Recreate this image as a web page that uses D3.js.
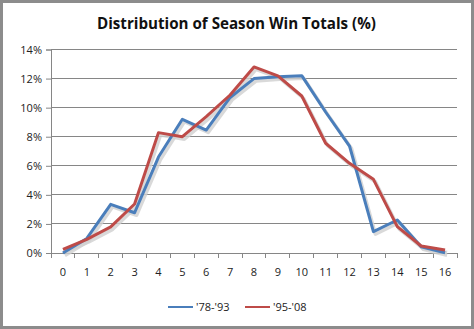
<!DOCTYPE html>
<html><head><meta charset="utf-8">
<script src="https://cdn.jsdelivr.net/npm/d3@7"></script>
<style>body{margin:0;background:#fff}svg{display:block}</style>
</head><body>
<svg id="c" width="474" height="329"></svg>
<script>
const categories = [0,1,2,3,4,5,6,7,8,9,10,11,12,13,14,15,16];
const series1Name = "'78-'93";
const series1 = [0.0,1.0,3.35,2.77,6.6,9.2,8.46,10.7,12.0,12.13,12.2,9.7,7.36,1.47,2.27,0.43,0.02];
const series2Name = "'95-'08";
const series2 = [0.25,0.94,1.8,3.37,8.28,8.0,9.38,10.87,12.8,12.18,10.8,7.55,6.17,5.07,1.81,0.48,0.2];
const yTicks = [0,2,4,6,8,10,12,14];
const title = "Distribution of Season Win Totals (%)";

(function(){
const svg = d3.select("#c");
const W = 474, H = 329;
const pLeft = 51, pRight = 457, pTop = 49.5, pBottom = 253;
const font = "'Open Sans', 'DejaVu Sans', sans-serif";

svg.append("rect").attr("x",1.5).attr("y",1.5).attr("width",W-3).attr("height",H-3)
  .attr("fill","#fff").attr("stroke","#8c8c8c").attr("stroke-width",3);

const x = d3.scaleBand().domain(categories).range([pLeft, pRight]);
const y = d3.scaleLinear().domain([0,14]).range([pBottom, pTop]);

svg.append("g").selectAll("line").data(yTicks.filter(d=>d>0)).join("line")
  .attr("x1",pLeft).attr("x2",pRight).attr("y1",d=>y(d)).attr("y2",d=>y(d))
  .attr("stroke","#868686").attr("stroke-width",1).attr("shape-rendering","crispEdges");

const ya = svg.append("g").attr("transform",`translate(${pLeft},0)`)
  .call(d3.axisLeft(y).tickValues(yTicks).tickFormat(d=>d+"%").tickSize(5).tickPadding(4));
ya.select(".domain").attr("stroke","#868686");
ya.selectAll(".tick line").attr("stroke","#868686");
ya.selectAll("text").attr("font-family",font).attr("font-size",11).attr("fill","#222");

const xa = svg.append("g").attr("transform",`translate(0,${pBottom})`)
  .call(d3.axisBottom(x).tickSize(0).tickPadding(15));
xa.select(".domain").attr("stroke","#868686");
xa.selectAll("text").attr("font-family",font).attr("font-size",11).attr("fill","#222");
const edges = categories.map(c=>x(c)).concat([pRight]);
svg.append("g").selectAll("line").data(edges).join("line")
  .attr("x1",d=>d).attr("x2",d=>d).attr("y1",pBottom).attr("y2",pBottom+5)
  .attr("stroke","#868686").attr("shape-rendering","crispEdges");

const line = d3.line().x((d,i)=>x(categories[i])+x.bandwidth()/2).y(d=>y(d));

[series1, series2].forEach(s=>{
  svg.append("path").datum(s).attr("d",line).attr("fill","none")
    .attr("stroke","#cfcfcf").attr("stroke-width",3.5).attr("stroke-linejoin","round")
    .attr("opacity",0.8).attr("transform","translate(2,2.5)");
});
svg.append("path").datum(series1).attr("d",line).attr("fill","none")
  .attr("stroke","#4a7ebb").attr("stroke-width",3).attr("stroke-linejoin","round");
svg.append("path").datum(series2).attr("d",line).attr("fill","none")
  .attr("stroke","#be4b48").attr("stroke-width",3).attr("stroke-linejoin","round");

svg.append("text").attr("x",236.5).attr("y",29).attr("text-anchor","middle")
  .attr("font-family",font).attr("font-weight","bold").attr("font-size",16).attr("fill","#111")
  .attr("textLength",279).attr("lengthAdjust","spacingAndGlyphs")
  .text(title);

const leg = [{n:series1Name,c:"#4a7ebb",x:168},{n:series2Name,c:"#be4b48",x:245}];
const lg = svg.append("g");
leg.forEach(l=>{
  lg.append("line").attr("x1",l.x).attr("x2",l.x+25).attr("y1",307).attr("y2",307)
    .attr("stroke",l.c).attr("stroke-width",2);
  lg.append("text").attr("x",l.x+28).attr("y",311).attr("font-family",font).attr("font-size",11)
    .attr("fill","#222").text(l.n);
});
})();
</script>
</body></html>
